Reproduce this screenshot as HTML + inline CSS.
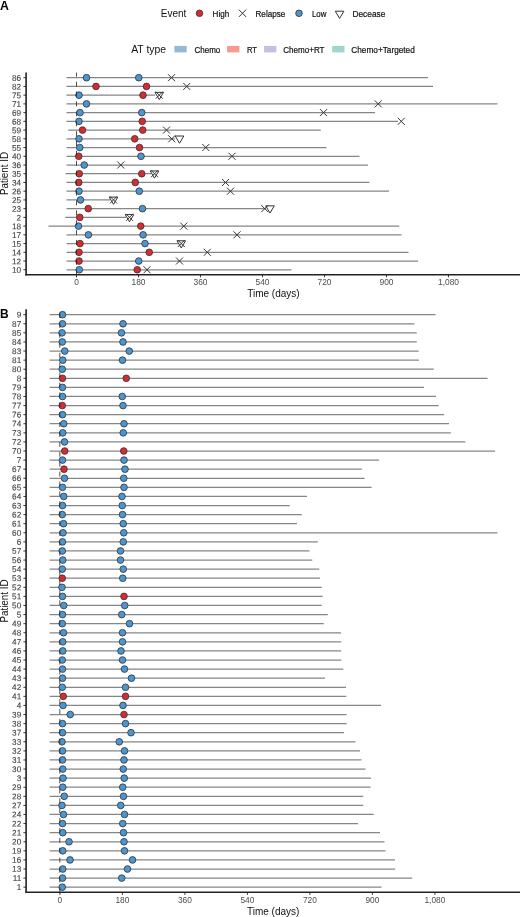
<!DOCTYPE html>
<html lang="en"><head><meta charset="utf-8"><title>Figure</title>
<style>html,body{margin:0;padding:0;background:#fff}svg{display:block}text{font-family:'Liberation Sans', sans-serif}</style></head><body>
<svg width="520" height="917" viewBox="0 0 520 917">
<rect width="520" height="917" fill="#fff"/>
<text x="0" y="9.5" font-size="12.3" font-weight="bold" fill="#000">A</text>
<text x="0" y="318" font-size="12" font-weight="bold" fill="#000">B</text>
<text x="160.8" y="16.9" font-size="10" fill="#111">Event</text>
<circle cx="199.50" cy="13.30" r="3.3" fill="#D62B33" stroke="#333" stroke-width="0.8"/>
<text x="212.6" y="16.6" font-size="8.5" textLength="16.6" lengthAdjust="spacingAndGlyphs" fill="#111" stroke="#111" stroke-width="0.2">High</text>
<path d="M238.90 9.70L246.10 16.90M238.90 16.90L246.10 9.70" stroke="#333" stroke-width="1" fill="none"/>
<text x="255.5" y="16.6" font-size="8.5" textLength="29.8" lengthAdjust="spacingAndGlyphs" fill="#111" stroke="#111" stroke-width="0.2">Relapse</text>
<circle cx="299.00" cy="13.30" r="3.3" fill="#4B96D1" stroke="#333" stroke-width="0.8"/>
<text x="312" y="16.6" font-size="8.5" textLength="14.3" lengthAdjust="spacingAndGlyphs" fill="#111" stroke="#111" stroke-width="0.2">Low</text>
<path d="M335.30 11.20L343.90 11.20L339.60 18.40Z" stroke="#333" stroke-width="1" fill="none"/>
<text x="352.5" y="16.6" font-size="8.5" textLength="32.8" lengthAdjust="spacingAndGlyphs" fill="#111" stroke="#111" stroke-width="0.2">Decease</text>
<text x="131.2" y="52.8" font-size="10" textLength="35" lengthAdjust="spacingAndGlyphs" fill="#111">AT type</text>
<rect x="174.4" y="45.9" width="12.3" height="6.5" fill="#97B8D3"/>
<rect x="227.1" y="45.9" width="12.3" height="6.5" fill="#F59B91"/>
<rect x="264.1" y="45.9" width="12.3" height="6.5" fill="#C0C2DF"/>
<rect x="332.2" y="45.9" width="12.3" height="6.5" fill="#9DD6CC"/>
<text x="194.4" y="52.5" font-size="8.5" textLength="25.9" lengthAdjust="spacingAndGlyphs" fill="#111" stroke="#111" stroke-width="0.2">Chemo</text>
<text x="247" y="52.5" font-size="8.5" textLength="10" lengthAdjust="spacingAndGlyphs" fill="#111" stroke="#111" stroke-width="0.2">RT</text>
<text x="283.2" y="52.5" font-size="8.5" textLength="41.3" lengthAdjust="spacingAndGlyphs" fill="#111" stroke="#111" stroke-width="0.2">Chemo+RT</text>
<text x="351.3" y="52.5" font-size="8.5" textLength="63.5" lengthAdjust="spacingAndGlyphs" fill="#111" stroke="#111" stroke-width="0.2">Chemo+Targeted</text>
<g>
<line x1="66.5" y1="77.70" x2="428" y2="77.70" stroke="#868686" stroke-width="1.25"/>
<line x1="66.5" y1="86.43" x2="433" y2="86.43" stroke="#868686" stroke-width="1.25"/>
<line x1="66.5" y1="95.16" x2="155" y2="95.16" stroke="#868686" stroke-width="1.25"/>
<line x1="66.5" y1="103.89" x2="497.5" y2="103.89" stroke="#868686" stroke-width="1.25"/>
<line x1="66.5" y1="112.62" x2="375" y2="112.62" stroke="#868686" stroke-width="1.25"/>
<line x1="66.5" y1="121.35" x2="398" y2="121.35" stroke="#868686" stroke-width="1.25"/>
<line x1="68.25" y1="130.08" x2="320.75" y2="130.08" stroke="#868686" stroke-width="1.25"/>
<line x1="66.5" y1="138.81" x2="175" y2="138.81" stroke="#868686" stroke-width="1.25"/>
<line x1="66.5" y1="147.54" x2="326.5" y2="147.54" stroke="#868686" stroke-width="1.25"/>
<line x1="66.5" y1="156.27" x2="359.5" y2="156.27" stroke="#868686" stroke-width="1.25"/>
<line x1="66.5" y1="165.00" x2="368" y2="165.00" stroke="#868686" stroke-width="1.25"/>
<line x1="65.5" y1="173.73" x2="151" y2="173.73" stroke="#868686" stroke-width="1.25"/>
<line x1="66.5" y1="182.46" x2="369.5" y2="182.46" stroke="#868686" stroke-width="1.25"/>
<line x1="66.5" y1="191.19" x2="389" y2="191.19" stroke="#868686" stroke-width="1.25"/>
<line x1="66.5" y1="199.92" x2="110" y2="199.92" stroke="#868686" stroke-width="1.25"/>
<line x1="66.5" y1="208.65" x2="266" y2="208.65" stroke="#868686" stroke-width="1.25"/>
<line x1="65.25" y1="217.38" x2="126" y2="217.38" stroke="#868686" stroke-width="1.25"/>
<line x1="48.5" y1="226.11" x2="399.25" y2="226.11" stroke="#868686" stroke-width="1.25"/>
<line x1="66.5" y1="234.84" x2="401.5" y2="234.84" stroke="#868686" stroke-width="1.25"/>
<line x1="66.5" y1="243.57" x2="178" y2="243.57" stroke="#868686" stroke-width="1.25"/>
<line x1="66.5" y1="252.30" x2="408.5" y2="252.30" stroke="#868686" stroke-width="1.25"/>
<line x1="66.5" y1="261.03" x2="418" y2="261.03" stroke="#868686" stroke-width="1.25"/>
<line x1="66.5" y1="269.76" x2="291.5" y2="269.76" stroke="#868686" stroke-width="1.25"/>
<circle cx="86.50" cy="77.70" r="3.35" fill="#4B96D1" stroke="#333" stroke-width="0.8"/>
<circle cx="138.75" cy="77.70" r="3.35" fill="#4B96D1" stroke="#333" stroke-width="0.8"/>
<path d="M168.00 74.20L175.00 81.20M168.00 81.20L175.00 74.20" stroke="#333" stroke-width="1" fill="none"/>
<circle cx="96.00" cy="86.43" r="3.35" fill="#D62B33" stroke="#333" stroke-width="0.8"/>
<circle cx="146.50" cy="86.43" r="3.35" fill="#D62B33" stroke="#333" stroke-width="0.8"/>
<path d="M183.25 82.93L190.25 89.93M183.25 89.93L190.25 82.93" stroke="#333" stroke-width="1" fill="none"/>
<circle cx="79.00" cy="95.16" r="3.35" fill="#4B96D1" stroke="#333" stroke-width="0.8"/>
<circle cx="143.00" cy="95.16" r="3.35" fill="#D62B33" stroke="#333" stroke-width="0.8"/>
<path d="M154.95 92.36L163.55 92.36L159.25 99.56Z" stroke="#333" stroke-width="1" fill="none"/>
<path d="M155.75 91.66L162.75 98.66M155.75 98.66L162.75 91.66" stroke="#333" stroke-width="1" fill="none"/>
<circle cx="86.50" cy="103.89" r="3.35" fill="#4B96D1" stroke="#333" stroke-width="0.8"/>
<path d="M374.75 100.39L381.75 107.39M374.75 107.39L381.75 100.39" stroke="#333" stroke-width="1" fill="none"/>
<circle cx="80.00" cy="112.62" r="3.35" fill="#4B96D1" stroke="#333" stroke-width="0.8"/>
<circle cx="141.75" cy="112.62" r="3.35" fill="#4B96D1" stroke="#333" stroke-width="0.8"/>
<path d="M320.00 109.12L327.00 116.12M320.00 116.12L327.00 109.12" stroke="#333" stroke-width="1" fill="none"/>
<circle cx="79.00" cy="121.35" r="3.35" fill="#4B96D1" stroke="#333" stroke-width="0.8"/>
<circle cx="142.25" cy="121.35" r="3.35" fill="#D62B33" stroke="#333" stroke-width="0.8"/>
<path d="M397.75 117.85L404.75 124.85M397.75 124.85L404.75 117.85" stroke="#333" stroke-width="1" fill="none"/>
<circle cx="82.50" cy="130.08" r="3.35" fill="#D62B33" stroke="#333" stroke-width="0.8"/>
<circle cx="142.75" cy="130.08" r="3.35" fill="#D62B33" stroke="#333" stroke-width="0.8"/>
<path d="M163.00 126.58L170.00 133.58M163.00 133.58L170.00 126.58" stroke="#333" stroke-width="1" fill="none"/>
<circle cx="79.00" cy="138.81" r="3.35" fill="#4B96D1" stroke="#333" stroke-width="0.8"/>
<circle cx="134.75" cy="138.81" r="3.35" fill="#D62B33" stroke="#333" stroke-width="0.8"/>
<path d="M168.25 135.31L175.25 142.31M168.25 142.31L175.25 135.31" stroke="#333" stroke-width="1" fill="none"/>
<path d="M175.20 136.01L183.80 136.01L179.50 143.21Z" stroke="#333" stroke-width="1" fill="none"/>
<circle cx="79.75" cy="147.54" r="3.35" fill="#4B96D1" stroke="#333" stroke-width="0.8"/>
<circle cx="139.50" cy="147.54" r="3.35" fill="#D62B33" stroke="#333" stroke-width="0.8"/>
<path d="M202.25 144.04L209.25 151.04M202.25 151.04L209.25 144.04" stroke="#333" stroke-width="1" fill="none"/>
<circle cx="78.75" cy="156.27" r="3.35" fill="#D62B33" stroke="#333" stroke-width="0.8"/>
<circle cx="141.00" cy="156.27" r="3.35" fill="#4B96D1" stroke="#333" stroke-width="0.8"/>
<path d="M228.50 152.77L235.50 159.77M228.50 159.77L235.50 152.77" stroke="#333" stroke-width="1" fill="none"/>
<circle cx="84.25" cy="165.00" r="3.35" fill="#4B96D1" stroke="#333" stroke-width="0.8"/>
<path d="M117.25 161.50L124.25 168.50M117.25 168.50L124.25 161.50" stroke="#333" stroke-width="1" fill="none"/>
<circle cx="79.25" cy="173.73" r="3.35" fill="#D62B33" stroke="#333" stroke-width="0.8"/>
<circle cx="141.75" cy="173.73" r="3.35" fill="#D62B33" stroke="#333" stroke-width="0.8"/>
<path d="M150.20 170.93L158.80 170.93L154.50 178.13Z" stroke="#333" stroke-width="1" fill="none"/>
<path d="M151.00 170.23L158.00 177.23M151.00 177.23L158.00 170.23" stroke="#333" stroke-width="1" fill="none"/>
<circle cx="78.75" cy="182.46" r="3.35" fill="#D62B33" stroke="#333" stroke-width="0.8"/>
<circle cx="135.25" cy="182.46" r="3.35" fill="#D62B33" stroke="#333" stroke-width="0.8"/>
<path d="M222.00 178.96L229.00 185.96M222.00 185.96L229.00 178.96" stroke="#333" stroke-width="1" fill="none"/>
<circle cx="79.00" cy="191.19" r="3.35" fill="#4B96D1" stroke="#333" stroke-width="0.8"/>
<circle cx="139.25" cy="191.19" r="3.35" fill="#4B96D1" stroke="#333" stroke-width="0.8"/>
<path d="M227.00 187.69L234.00 194.69M227.00 194.69L234.00 187.69" stroke="#333" stroke-width="1" fill="none"/>
<circle cx="80.50" cy="199.92" r="3.35" fill="#4B96D1" stroke="#333" stroke-width="0.8"/>
<path d="M109.20 197.12L117.80 197.12L113.50 204.32Z" stroke="#333" stroke-width="1" fill="none"/>
<path d="M110.00 196.42L117.00 203.42M110.00 203.42L117.00 196.42" stroke="#333" stroke-width="1" fill="none"/>
<circle cx="88.25" cy="208.65" r="3.35" fill="#D62B33" stroke="#333" stroke-width="0.8"/>
<circle cx="142.50" cy="208.65" r="3.35" fill="#4B96D1" stroke="#333" stroke-width="0.8"/>
<path d="M261.25 205.15L268.25 212.15M261.25 212.15L268.25 205.15" stroke="#333" stroke-width="1" fill="none"/>
<path d="M265.70 205.85L274.30 205.85L270.00 213.05Z" stroke="#333" stroke-width="1" fill="none"/>
<circle cx="79.75" cy="217.38" r="3.35" fill="#D62B33" stroke="#333" stroke-width="0.8"/>
<path d="M125.20 214.58L133.80 214.58L129.50 221.78Z" stroke="#333" stroke-width="1" fill="none"/>
<path d="M126.00 213.88L133.00 220.88M126.00 220.88L133.00 213.88" stroke="#333" stroke-width="1" fill="none"/>
<circle cx="78.50" cy="226.11" r="3.35" fill="#4B96D1" stroke="#333" stroke-width="0.8"/>
<circle cx="140.75" cy="226.11" r="3.35" fill="#D62B33" stroke="#333" stroke-width="0.8"/>
<path d="M180.25 222.61L187.25 229.61M180.25 229.61L187.25 222.61" stroke="#333" stroke-width="1" fill="none"/>
<circle cx="88.40" cy="234.84" r="3.35" fill="#4B96D1" stroke="#333" stroke-width="0.8"/>
<circle cx="143.10" cy="234.84" r="3.35" fill="#4B96D1" stroke="#333" stroke-width="0.8"/>
<path d="M233.50 231.34L240.50 238.34M233.50 238.34L240.50 231.34" stroke="#333" stroke-width="1" fill="none"/>
<circle cx="80.00" cy="243.57" r="3.35" fill="#D62B33" stroke="#333" stroke-width="0.8"/>
<circle cx="145.00" cy="243.57" r="3.35" fill="#4B96D1" stroke="#333" stroke-width="0.8"/>
<path d="M176.95 240.77L185.55 240.77L181.25 247.97Z" stroke="#333" stroke-width="1" fill="none"/>
<path d="M177.75 240.07L184.75 247.07M177.75 247.07L184.75 240.07" stroke="#333" stroke-width="1" fill="none"/>
<circle cx="79.00" cy="252.30" r="3.35" fill="#D62B33" stroke="#333" stroke-width="0.8"/>
<circle cx="149.25" cy="252.30" r="3.35" fill="#D62B33" stroke="#333" stroke-width="0.8"/>
<path d="M203.75 248.80L210.75 255.80M203.75 255.80L210.75 248.80" stroke="#333" stroke-width="1" fill="none"/>
<circle cx="79.00" cy="261.03" r="3.35" fill="#D62B33" stroke="#333" stroke-width="0.8"/>
<circle cx="138.75" cy="261.03" r="3.35" fill="#4B96D1" stroke="#333" stroke-width="0.8"/>
<path d="M176.00 257.53L183.00 264.53M176.00 264.53L183.00 257.53" stroke="#333" stroke-width="1" fill="none"/>
<circle cx="79.25" cy="269.76" r="3.35" fill="#4B96D1" stroke="#333" stroke-width="0.8"/>
<circle cx="137.25" cy="269.76" r="3.35" fill="#D62B33" stroke="#333" stroke-width="0.8"/>
<path d="M143.50 266.26L150.50 273.26M143.50 273.26L150.50 266.26" stroke="#333" stroke-width="1" fill="none"/>
<line x1="76.5" y1="274.7" x2="76.5" y2="72.6" stroke="#222" stroke-width="1" stroke-opacity="0.8" stroke-dasharray="4.95 4.95"/>
<line x1="26.1" y1="72.6" x2="26.1" y2="275.5" stroke="#222" stroke-width="1.6"/>
<line x1="25.3" y1="274.7" x2="520" y2="274.7" stroke="#222" stroke-width="1.6"/>
<line x1="23.4" y1="77.70" x2="26.1" y2="77.70" stroke="#222" stroke-width="0.9"/>
<text transform="translate(21 80.80) rotate(0.03)" font-size="8.2" text-anchor="end" fill="#424242" stroke="#424242" stroke-width="0.12">86</text>
<line x1="23.4" y1="86.43" x2="26.1" y2="86.43" stroke="#222" stroke-width="0.9"/>
<text transform="translate(21 89.53) rotate(0.03)" font-size="8.2" text-anchor="end" fill="#424242" stroke="#424242" stroke-width="0.12">82</text>
<line x1="23.4" y1="95.16" x2="26.1" y2="95.16" stroke="#222" stroke-width="0.9"/>
<text transform="translate(21 98.26) rotate(0.03)" font-size="8.2" text-anchor="end" fill="#424242" stroke="#424242" stroke-width="0.12">75</text>
<line x1="23.4" y1="103.89" x2="26.1" y2="103.89" stroke="#222" stroke-width="0.9"/>
<text transform="translate(21 106.99) rotate(0.03)" font-size="8.2" text-anchor="end" fill="#424242" stroke="#424242" stroke-width="0.12">71</text>
<line x1="23.4" y1="112.62" x2="26.1" y2="112.62" stroke="#222" stroke-width="0.9"/>
<text transform="translate(21 115.72) rotate(0.03)" font-size="8.2" text-anchor="end" fill="#424242" stroke="#424242" stroke-width="0.12">69</text>
<line x1="23.4" y1="121.35" x2="26.1" y2="121.35" stroke="#222" stroke-width="0.9"/>
<text transform="translate(21 124.45) rotate(0.03)" font-size="8.2" text-anchor="end" fill="#424242" stroke="#424242" stroke-width="0.12">68</text>
<line x1="23.4" y1="130.08" x2="26.1" y2="130.08" stroke="#222" stroke-width="0.9"/>
<text transform="translate(21 133.18) rotate(0.03)" font-size="8.2" text-anchor="end" fill="#424242" stroke="#424242" stroke-width="0.12">59</text>
<line x1="23.4" y1="138.81" x2="26.1" y2="138.81" stroke="#222" stroke-width="0.9"/>
<text transform="translate(21 141.91) rotate(0.03)" font-size="8.2" text-anchor="end" fill="#424242" stroke="#424242" stroke-width="0.12">58</text>
<line x1="23.4" y1="147.54" x2="26.1" y2="147.54" stroke="#222" stroke-width="0.9"/>
<text transform="translate(21 150.64) rotate(0.03)" font-size="8.2" text-anchor="end" fill="#424242" stroke="#424242" stroke-width="0.12">55</text>
<line x1="23.4" y1="156.27" x2="26.1" y2="156.27" stroke="#222" stroke-width="0.9"/>
<text transform="translate(21 159.37) rotate(0.03)" font-size="8.2" text-anchor="end" fill="#424242" stroke="#424242" stroke-width="0.12">40</text>
<line x1="23.4" y1="165.00" x2="26.1" y2="165.00" stroke="#222" stroke-width="0.9"/>
<text transform="translate(21 168.10) rotate(0.03)" font-size="8.2" text-anchor="end" fill="#424242" stroke="#424242" stroke-width="0.12">36</text>
<line x1="23.4" y1="173.73" x2="26.1" y2="173.73" stroke="#222" stroke-width="0.9"/>
<text transform="translate(21 176.83) rotate(0.03)" font-size="8.2" text-anchor="end" fill="#424242" stroke="#424242" stroke-width="0.12">35</text>
<line x1="23.4" y1="182.46" x2="26.1" y2="182.46" stroke="#222" stroke-width="0.9"/>
<text transform="translate(21 185.56) rotate(0.03)" font-size="8.2" text-anchor="end" fill="#424242" stroke="#424242" stroke-width="0.12">34</text>
<line x1="23.4" y1="191.19" x2="26.1" y2="191.19" stroke="#222" stroke-width="0.9"/>
<text transform="translate(21 194.29) rotate(0.03)" font-size="8.2" text-anchor="end" fill="#424242" stroke="#424242" stroke-width="0.12">26</text>
<line x1="23.4" y1="199.92" x2="26.1" y2="199.92" stroke="#222" stroke-width="0.9"/>
<text transform="translate(21 203.02) rotate(0.03)" font-size="8.2" text-anchor="end" fill="#424242" stroke="#424242" stroke-width="0.12">25</text>
<line x1="23.4" y1="208.65" x2="26.1" y2="208.65" stroke="#222" stroke-width="0.9"/>
<text transform="translate(21 211.75) rotate(0.03)" font-size="8.2" text-anchor="end" fill="#424242" stroke="#424242" stroke-width="0.12">23</text>
<line x1="23.4" y1="217.38" x2="26.1" y2="217.38" stroke="#222" stroke-width="0.9"/>
<text transform="translate(21 220.48) rotate(0.03)" font-size="8.2" text-anchor="end" fill="#424242" stroke="#424242" stroke-width="0.12">2</text>
<line x1="23.4" y1="226.11" x2="26.1" y2="226.11" stroke="#222" stroke-width="0.9"/>
<text transform="translate(21 229.21) rotate(0.03)" font-size="8.2" text-anchor="end" fill="#424242" stroke="#424242" stroke-width="0.12">18</text>
<line x1="23.4" y1="234.84" x2="26.1" y2="234.84" stroke="#222" stroke-width="0.9"/>
<text transform="translate(21 237.94) rotate(0.03)" font-size="8.2" text-anchor="end" fill="#424242" stroke="#424242" stroke-width="0.12">17</text>
<line x1="23.4" y1="243.57" x2="26.1" y2="243.57" stroke="#222" stroke-width="0.9"/>
<text transform="translate(21 246.67) rotate(0.03)" font-size="8.2" text-anchor="end" fill="#424242" stroke="#424242" stroke-width="0.12">15</text>
<line x1="23.4" y1="252.30" x2="26.1" y2="252.30" stroke="#222" stroke-width="0.9"/>
<text transform="translate(21 255.40) rotate(0.03)" font-size="8.2" text-anchor="end" fill="#424242" stroke="#424242" stroke-width="0.12">14</text>
<line x1="23.4" y1="261.03" x2="26.1" y2="261.03" stroke="#222" stroke-width="0.9"/>
<text transform="translate(21 264.13) rotate(0.03)" font-size="8.2" text-anchor="end" fill="#424242" stroke="#424242" stroke-width="0.12">12</text>
<line x1="23.4" y1="269.76" x2="26.1" y2="269.76" stroke="#222" stroke-width="0.9"/>
<text transform="translate(21 272.86) rotate(0.03)" font-size="8.2" text-anchor="end" fill="#424242" stroke="#424242" stroke-width="0.12">10</text>
<line x1="76.5" y1="274.7" x2="76.5" y2="277.3" stroke="#222" stroke-width="0.9"/>
<text x="76.5" y="285.2" font-size="8.4" text-anchor="middle" fill="#4d4d4d">0</text>
<line x1="138.5" y1="274.7" x2="138.5" y2="277.3" stroke="#222" stroke-width="0.9"/>
<text x="138.5" y="285.2" font-size="8.4" text-anchor="middle" fill="#4d4d4d">180</text>
<line x1="200.5" y1="274.7" x2="200.5" y2="277.3" stroke="#222" stroke-width="0.9"/>
<text x="200.5" y="285.2" font-size="8.4" text-anchor="middle" fill="#4d4d4d">360</text>
<line x1="262.5" y1="274.7" x2="262.5" y2="277.3" stroke="#222" stroke-width="0.9"/>
<text x="262.5" y="285.2" font-size="8.4" text-anchor="middle" fill="#4d4d4d">540</text>
<line x1="324.5" y1="274.7" x2="324.5" y2="277.3" stroke="#222" stroke-width="0.9"/>
<text x="324.5" y="285.2" font-size="8.4" text-anchor="middle" fill="#4d4d4d">720</text>
<line x1="386.5" y1="274.7" x2="386.5" y2="277.3" stroke="#222" stroke-width="0.9"/>
<text x="386.5" y="285.2" font-size="8.4" text-anchor="middle" fill="#4d4d4d">900</text>
<line x1="448.5" y1="274.7" x2="448.5" y2="277.3" stroke="#222" stroke-width="0.9"/>
<text x="448.5" y="285.2" font-size="8.4" text-anchor="middle" fill="#4d4d4d">1,080</text>
<text x="273.4" y="297.3" font-size="10" text-anchor="middle" fill="#111">Time (days)</text>
<text transform="translate(8.1 173.5) rotate(-90)" font-size="10" textLength="43.2" lengthAdjust="spacingAndGlyphs" text-anchor="middle" fill="#111">Patient ID</text>
</g>
<g>
<line x1="49.6" y1="314.70" x2="435.5" y2="314.70" stroke="#868686" stroke-width="1.25"/>
<line x1="49.6" y1="323.79" x2="414.4" y2="323.79" stroke="#868686" stroke-width="1.25"/>
<line x1="49.6" y1="332.87" x2="416.8" y2="332.87" stroke="#868686" stroke-width="1.25"/>
<line x1="49.6" y1="341.96" x2="416.8" y2="341.96" stroke="#868686" stroke-width="1.25"/>
<line x1="49.6" y1="351.05" x2="418.6" y2="351.05" stroke="#868686" stroke-width="1.25"/>
<line x1="49.6" y1="360.13" x2="418.9" y2="360.13" stroke="#868686" stroke-width="1.25"/>
<line x1="49.6" y1="369.22" x2="433.8" y2="369.22" stroke="#868686" stroke-width="1.25"/>
<line x1="49.6" y1="378.31" x2="487.5" y2="378.31" stroke="#868686" stroke-width="1.25"/>
<line x1="49.6" y1="387.40" x2="424.1" y2="387.40" stroke="#868686" stroke-width="1.25"/>
<line x1="49.6" y1="396.48" x2="435.9" y2="396.48" stroke="#868686" stroke-width="1.25"/>
<line x1="49.6" y1="405.57" x2="438.6" y2="405.57" stroke="#868686" stroke-width="1.25"/>
<line x1="49.6" y1="414.66" x2="444.2" y2="414.66" stroke="#868686" stroke-width="1.25"/>
<line x1="49.6" y1="423.74" x2="449" y2="423.74" stroke="#868686" stroke-width="1.25"/>
<line x1="49.6" y1="432.83" x2="450.8" y2="432.83" stroke="#868686" stroke-width="1.25"/>
<line x1="49.6" y1="441.92" x2="465.3" y2="441.92" stroke="#868686" stroke-width="1.25"/>
<line x1="49.6" y1="451.00" x2="495.1" y2="451.00" stroke="#868686" stroke-width="1.25"/>
<line x1="49.6" y1="460.09" x2="379.1" y2="460.09" stroke="#868686" stroke-width="1.25"/>
<line x1="49.6" y1="469.18" x2="361.8" y2="469.18" stroke="#868686" stroke-width="1.25"/>
<line x1="49.6" y1="478.27" x2="364.6" y2="478.27" stroke="#868686" stroke-width="1.25"/>
<line x1="49.6" y1="487.35" x2="371.6" y2="487.35" stroke="#868686" stroke-width="1.25"/>
<line x1="49.6" y1="496.44" x2="307" y2="496.44" stroke="#868686" stroke-width="1.25"/>
<line x1="49.6" y1="505.53" x2="289.75" y2="505.53" stroke="#868686" stroke-width="1.25"/>
<line x1="49.6" y1="514.61" x2="301.75" y2="514.61" stroke="#868686" stroke-width="1.25"/>
<line x1="49.6" y1="523.70" x2="297" y2="523.70" stroke="#868686" stroke-width="1.25"/>
<line x1="49.6" y1="532.79" x2="497.4" y2="532.79" stroke="#868686" stroke-width="1.25"/>
<line x1="49.6" y1="541.88" x2="317.75" y2="541.88" stroke="#868686" stroke-width="1.25"/>
<line x1="49.6" y1="550.96" x2="309.5" y2="550.96" stroke="#868686" stroke-width="1.25"/>
<line x1="49.6" y1="560.05" x2="312.25" y2="560.05" stroke="#868686" stroke-width="1.25"/>
<line x1="49.6" y1="569.14" x2="319.25" y2="569.14" stroke="#868686" stroke-width="1.25"/>
<line x1="49.6" y1="578.22" x2="320" y2="578.22" stroke="#868686" stroke-width="1.25"/>
<line x1="49.6" y1="587.31" x2="321.75" y2="587.31" stroke="#868686" stroke-width="1.25"/>
<line x1="49.6" y1="596.40" x2="322.75" y2="596.40" stroke="#868686" stroke-width="1.25"/>
<line x1="49.6" y1="605.48" x2="321.75" y2="605.48" stroke="#868686" stroke-width="1.25"/>
<line x1="49.6" y1="614.57" x2="327.75" y2="614.57" stroke="#868686" stroke-width="1.25"/>
<line x1="49.6" y1="623.66" x2="323.75" y2="623.66" stroke="#868686" stroke-width="1.25"/>
<line x1="49.6" y1="632.75" x2="341" y2="632.75" stroke="#868686" stroke-width="1.25"/>
<line x1="49.6" y1="641.83" x2="341.25" y2="641.83" stroke="#868686" stroke-width="1.25"/>
<line x1="49.6" y1="650.92" x2="341.25" y2="650.92" stroke="#868686" stroke-width="1.25"/>
<line x1="49.6" y1="660.01" x2="341.25" y2="660.01" stroke="#868686" stroke-width="1.25"/>
<line x1="49.6" y1="669.09" x2="343.25" y2="669.09" stroke="#868686" stroke-width="1.25"/>
<line x1="49.6" y1="678.18" x2="325" y2="678.18" stroke="#868686" stroke-width="1.25"/>
<line x1="49.6" y1="687.27" x2="346" y2="687.27" stroke="#868686" stroke-width="1.25"/>
<line x1="49.6" y1="696.35" x2="346.25" y2="696.35" stroke="#868686" stroke-width="1.25"/>
<line x1="49.6" y1="705.44" x2="381" y2="705.44" stroke="#868686" stroke-width="1.25"/>
<line x1="49.6" y1="714.53" x2="346.5" y2="714.53" stroke="#868686" stroke-width="1.25"/>
<line x1="49.6" y1="723.62" x2="346.75" y2="723.62" stroke="#868686" stroke-width="1.25"/>
<line x1="49.6" y1="732.70" x2="344" y2="732.70" stroke="#868686" stroke-width="1.25"/>
<line x1="49.6" y1="741.79" x2="355.5" y2="741.79" stroke="#868686" stroke-width="1.25"/>
<line x1="49.6" y1="750.88" x2="360" y2="750.88" stroke="#868686" stroke-width="1.25"/>
<line x1="49.6" y1="759.96" x2="361.5" y2="759.96" stroke="#868686" stroke-width="1.25"/>
<line x1="49.6" y1="769.05" x2="365.5" y2="769.05" stroke="#868686" stroke-width="1.25"/>
<line x1="49.6" y1="778.14" x2="371" y2="778.14" stroke="#868686" stroke-width="1.25"/>
<line x1="49.6" y1="787.22" x2="370.5" y2="787.22" stroke="#868686" stroke-width="1.25"/>
<line x1="49.6" y1="796.31" x2="363.25" y2="796.31" stroke="#868686" stroke-width="1.25"/>
<line x1="49.6" y1="805.40" x2="363.25" y2="805.40" stroke="#868686" stroke-width="1.25"/>
<line x1="49.6" y1="814.48" x2="373.75" y2="814.48" stroke="#868686" stroke-width="1.25"/>
<line x1="49.6" y1="823.57" x2="358" y2="823.57" stroke="#868686" stroke-width="1.25"/>
<line x1="49.6" y1="832.66" x2="380" y2="832.66" stroke="#868686" stroke-width="1.25"/>
<line x1="49.6" y1="841.75" x2="384.5" y2="841.75" stroke="#868686" stroke-width="1.25"/>
<line x1="49.6" y1="850.83" x2="385.5" y2="850.83" stroke="#868686" stroke-width="1.25"/>
<line x1="49.6" y1="859.92" x2="395" y2="859.92" stroke="#868686" stroke-width="1.25"/>
<line x1="49.6" y1="869.01" x2="395.25" y2="869.01" stroke="#868686" stroke-width="1.25"/>
<line x1="49.6" y1="878.09" x2="412.25" y2="878.09" stroke="#868686" stroke-width="1.25"/>
<line x1="49.6" y1="887.18" x2="381.5" y2="887.18" stroke="#868686" stroke-width="1.25"/>
<circle cx="62.50" cy="314.70" r="3.35" fill="#4B96D1" stroke="#333" stroke-width="0.8"/>
<circle cx="62.50" cy="323.79" r="3.35" fill="#4B96D1" stroke="#333" stroke-width="0.8"/>
<circle cx="123.00" cy="323.79" r="3.35" fill="#4B96D1" stroke="#333" stroke-width="0.8"/>
<circle cx="62.00" cy="332.87" r="3.35" fill="#4B96D1" stroke="#333" stroke-width="0.8"/>
<circle cx="121.50" cy="332.87" r="3.35" fill="#4B96D1" stroke="#333" stroke-width="0.8"/>
<circle cx="62.25" cy="341.96" r="3.35" fill="#4B96D1" stroke="#333" stroke-width="0.8"/>
<circle cx="123.00" cy="341.96" r="3.35" fill="#4B96D1" stroke="#333" stroke-width="0.8"/>
<circle cx="64.75" cy="351.05" r="3.35" fill="#4B96D1" stroke="#333" stroke-width="0.8"/>
<circle cx="129.25" cy="351.05" r="3.35" fill="#4B96D1" stroke="#333" stroke-width="0.8"/>
<circle cx="62.75" cy="360.13" r="3.35" fill="#4B96D1" stroke="#333" stroke-width="0.8"/>
<circle cx="122.50" cy="360.13" r="3.35" fill="#4B96D1" stroke="#333" stroke-width="0.8"/>
<circle cx="62.25" cy="369.22" r="3.35" fill="#4B96D1" stroke="#333" stroke-width="0.8"/>
<circle cx="62.50" cy="378.31" r="3.35" fill="#D62B33" stroke="#333" stroke-width="0.8"/>
<circle cx="126.25" cy="378.31" r="3.35" fill="#D62B33" stroke="#333" stroke-width="0.8"/>
<circle cx="62.50" cy="387.40" r="3.35" fill="#4B96D1" stroke="#333" stroke-width="0.8"/>
<circle cx="62.50" cy="396.48" r="3.35" fill="#4B96D1" stroke="#333" stroke-width="0.8"/>
<circle cx="122.25" cy="396.48" r="3.35" fill="#4B96D1" stroke="#333" stroke-width="0.8"/>
<circle cx="62.25" cy="405.57" r="3.35" fill="#D62B33" stroke="#333" stroke-width="0.8"/>
<circle cx="123.00" cy="405.57" r="3.35" fill="#4B96D1" stroke="#333" stroke-width="0.8"/>
<circle cx="62.50" cy="414.66" r="3.35" fill="#4B96D1" stroke="#333" stroke-width="0.8"/>
<circle cx="63.75" cy="423.74" r="3.35" fill="#4B96D1" stroke="#333" stroke-width="0.8"/>
<circle cx="124.00" cy="423.74" r="3.35" fill="#4B96D1" stroke="#333" stroke-width="0.8"/>
<circle cx="62.75" cy="432.83" r="3.35" fill="#4B96D1" stroke="#333" stroke-width="0.8"/>
<circle cx="123.25" cy="432.83" r="3.35" fill="#4B96D1" stroke="#333" stroke-width="0.8"/>
<circle cx="64.50" cy="441.92" r="3.35" fill="#4B96D1" stroke="#333" stroke-width="0.8"/>
<circle cx="64.75" cy="451.00" r="3.35" fill="#D62B33" stroke="#333" stroke-width="0.8"/>
<circle cx="123.75" cy="451.00" r="3.35" fill="#D62B33" stroke="#333" stroke-width="0.8"/>
<circle cx="62.50" cy="460.09" r="3.35" fill="#4B96D1" stroke="#333" stroke-width="0.8"/>
<circle cx="124.00" cy="460.09" r="3.35" fill="#4B96D1" stroke="#333" stroke-width="0.8"/>
<circle cx="64.00" cy="469.18" r="3.35" fill="#D62B33" stroke="#333" stroke-width="0.8"/>
<circle cx="125.00" cy="469.18" r="3.35" fill="#4B96D1" stroke="#333" stroke-width="0.8"/>
<circle cx="64.50" cy="478.27" r="3.35" fill="#4B96D1" stroke="#333" stroke-width="0.8"/>
<circle cx="123.75" cy="478.27" r="3.35" fill="#4B96D1" stroke="#333" stroke-width="0.8"/>
<circle cx="62.50" cy="487.35" r="3.35" fill="#4B96D1" stroke="#333" stroke-width="0.8"/>
<circle cx="124.00" cy="487.35" r="3.35" fill="#4B96D1" stroke="#333" stroke-width="0.8"/>
<circle cx="63.75" cy="496.44" r="3.35" fill="#4B96D1" stroke="#333" stroke-width="0.8"/>
<circle cx="122.00" cy="496.44" r="3.35" fill="#4B96D1" stroke="#333" stroke-width="0.8"/>
<circle cx="62.50" cy="505.53" r="3.35" fill="#4B96D1" stroke="#333" stroke-width="0.8"/>
<circle cx="122.25" cy="505.53" r="3.35" fill="#4B96D1" stroke="#333" stroke-width="0.8"/>
<circle cx="62.25" cy="514.61" r="3.35" fill="#4B96D1" stroke="#333" stroke-width="0.8"/>
<circle cx="122.50" cy="514.61" r="3.35" fill="#4B96D1" stroke="#333" stroke-width="0.8"/>
<circle cx="63.50" cy="523.70" r="3.35" fill="#4B96D1" stroke="#333" stroke-width="0.8"/>
<circle cx="123.25" cy="523.70" r="3.35" fill="#4B96D1" stroke="#333" stroke-width="0.8"/>
<circle cx="63.00" cy="532.79" r="3.35" fill="#4B96D1" stroke="#333" stroke-width="0.8"/>
<circle cx="123.75" cy="532.79" r="3.35" fill="#4B96D1" stroke="#333" stroke-width="0.8"/>
<circle cx="62.50" cy="541.88" r="3.35" fill="#4B96D1" stroke="#333" stroke-width="0.8"/>
<circle cx="123.25" cy="541.88" r="3.35" fill="#4B96D1" stroke="#333" stroke-width="0.8"/>
<circle cx="62.25" cy="550.96" r="3.35" fill="#4B96D1" stroke="#333" stroke-width="0.8"/>
<circle cx="120.50" cy="550.96" r="3.35" fill="#4B96D1" stroke="#333" stroke-width="0.8"/>
<circle cx="62.75" cy="560.05" r="3.35" fill="#4B96D1" stroke="#333" stroke-width="0.8"/>
<circle cx="120.50" cy="560.05" r="3.35" fill="#4B96D1" stroke="#333" stroke-width="0.8"/>
<circle cx="62.25" cy="569.14" r="3.35" fill="#4B96D1" stroke="#333" stroke-width="0.8"/>
<circle cx="123.25" cy="569.14" r="3.35" fill="#4B96D1" stroke="#333" stroke-width="0.8"/>
<circle cx="62.25" cy="578.22" r="3.35" fill="#D62B33" stroke="#333" stroke-width="0.8"/>
<circle cx="122.75" cy="578.22" r="3.35" fill="#4B96D1" stroke="#333" stroke-width="0.8"/>
<circle cx="62.00" cy="587.31" r="3.35" fill="#4B96D1" stroke="#333" stroke-width="0.8"/>
<circle cx="62.50" cy="596.40" r="3.35" fill="#4B96D1" stroke="#333" stroke-width="0.8"/>
<circle cx="124.00" cy="596.40" r="3.35" fill="#D62B33" stroke="#333" stroke-width="0.8"/>
<circle cx="63.75" cy="605.48" r="3.35" fill="#4B96D1" stroke="#333" stroke-width="0.8"/>
<circle cx="124.75" cy="605.48" r="3.35" fill="#4B96D1" stroke="#333" stroke-width="0.8"/>
<circle cx="62.50" cy="614.57" r="3.35" fill="#4B96D1" stroke="#333" stroke-width="0.8"/>
<circle cx="121.75" cy="614.57" r="3.35" fill="#4B96D1" stroke="#333" stroke-width="0.8"/>
<circle cx="62.25" cy="623.66" r="3.35" fill="#4B96D1" stroke="#333" stroke-width="0.8"/>
<circle cx="129.50" cy="623.66" r="3.35" fill="#4B96D1" stroke="#333" stroke-width="0.8"/>
<circle cx="63.50" cy="632.75" r="3.35" fill="#4B96D1" stroke="#333" stroke-width="0.8"/>
<circle cx="122.50" cy="632.75" r="3.35" fill="#4B96D1" stroke="#333" stroke-width="0.8"/>
<circle cx="62.75" cy="641.83" r="3.35" fill="#4B96D1" stroke="#333" stroke-width="0.8"/>
<circle cx="122.50" cy="641.83" r="3.35" fill="#4B96D1" stroke="#333" stroke-width="0.8"/>
<circle cx="62.75" cy="650.92" r="3.35" fill="#4B96D1" stroke="#333" stroke-width="0.8"/>
<circle cx="121.00" cy="650.92" r="3.35" fill="#4B96D1" stroke="#333" stroke-width="0.8"/>
<circle cx="62.25" cy="660.01" r="3.35" fill="#4B96D1" stroke="#333" stroke-width="0.8"/>
<circle cx="122.50" cy="660.01" r="3.35" fill="#4B96D1" stroke="#333" stroke-width="0.8"/>
<circle cx="62.50" cy="669.09" r="3.35" fill="#4B96D1" stroke="#333" stroke-width="0.8"/>
<circle cx="124.50" cy="669.09" r="3.35" fill="#4B96D1" stroke="#333" stroke-width="0.8"/>
<circle cx="62.50" cy="678.18" r="3.35" fill="#4B96D1" stroke="#333" stroke-width="0.8"/>
<circle cx="131.50" cy="678.18" r="3.35" fill="#4B96D1" stroke="#333" stroke-width="0.8"/>
<circle cx="62.25" cy="687.27" r="3.35" fill="#4B96D1" stroke="#333" stroke-width="0.8"/>
<circle cx="125.50" cy="687.27" r="3.35" fill="#4B96D1" stroke="#333" stroke-width="0.8"/>
<circle cx="63.25" cy="696.35" r="3.35" fill="#D62B33" stroke="#333" stroke-width="0.8"/>
<circle cx="125.50" cy="696.35" r="3.35" fill="#D62B33" stroke="#333" stroke-width="0.8"/>
<circle cx="63.00" cy="705.44" r="3.35" fill="#4B96D1" stroke="#333" stroke-width="0.8"/>
<circle cx="123.00" cy="705.44" r="3.35" fill="#4B96D1" stroke="#333" stroke-width="0.8"/>
<circle cx="70.25" cy="714.53" r="3.35" fill="#4B96D1" stroke="#333" stroke-width="0.8"/>
<circle cx="124.00" cy="714.53" r="3.35" fill="#D62B33" stroke="#333" stroke-width="0.8"/>
<circle cx="62.50" cy="723.62" r="3.35" fill="#4B96D1" stroke="#333" stroke-width="0.8"/>
<circle cx="125.50" cy="723.62" r="3.35" fill="#4B96D1" stroke="#333" stroke-width="0.8"/>
<circle cx="62.50" cy="732.70" r="3.35" fill="#4B96D1" stroke="#333" stroke-width="0.8"/>
<circle cx="131.00" cy="732.70" r="3.35" fill="#4B96D1" stroke="#333" stroke-width="0.8"/>
<circle cx="62.00" cy="741.79" r="3.35" fill="#4B96D1" stroke="#333" stroke-width="0.8"/>
<circle cx="119.25" cy="741.79" r="3.35" fill="#4B96D1" stroke="#333" stroke-width="0.8"/>
<circle cx="62.50" cy="750.88" r="3.35" fill="#4B96D1" stroke="#333" stroke-width="0.8"/>
<circle cx="124.50" cy="750.88" r="3.35" fill="#4B96D1" stroke="#333" stroke-width="0.8"/>
<circle cx="62.50" cy="759.96" r="3.35" fill="#4B96D1" stroke="#333" stroke-width="0.8"/>
<circle cx="124.00" cy="759.96" r="3.35" fill="#4B96D1" stroke="#333" stroke-width="0.8"/>
<circle cx="62.75" cy="769.05" r="3.35" fill="#4B96D1" stroke="#333" stroke-width="0.8"/>
<circle cx="123.25" cy="769.05" r="3.35" fill="#4B96D1" stroke="#333" stroke-width="0.8"/>
<circle cx="63.00" cy="778.14" r="3.35" fill="#4B96D1" stroke="#333" stroke-width="0.8"/>
<circle cx="124.25" cy="778.14" r="3.35" fill="#4B96D1" stroke="#333" stroke-width="0.8"/>
<circle cx="62.75" cy="787.22" r="3.35" fill="#4B96D1" stroke="#333" stroke-width="0.8"/>
<circle cx="122.75" cy="787.22" r="3.35" fill="#4B96D1" stroke="#333" stroke-width="0.8"/>
<circle cx="64.25" cy="796.31" r="3.35" fill="#4B96D1" stroke="#333" stroke-width="0.8"/>
<circle cx="123.50" cy="796.31" r="3.35" fill="#4B96D1" stroke="#333" stroke-width="0.8"/>
<circle cx="62.00" cy="805.40" r="3.35" fill="#4B96D1" stroke="#333" stroke-width="0.8"/>
<circle cx="120.75" cy="805.40" r="3.35" fill="#4B96D1" stroke="#333" stroke-width="0.8"/>
<circle cx="63.50" cy="814.48" r="3.35" fill="#4B96D1" stroke="#333" stroke-width="0.8"/>
<circle cx="124.50" cy="814.48" r="3.35" fill="#4B96D1" stroke="#333" stroke-width="0.8"/>
<circle cx="62.50" cy="823.57" r="3.35" fill="#4B96D1" stroke="#333" stroke-width="0.8"/>
<circle cx="122.75" cy="823.57" r="3.35" fill="#4B96D1" stroke="#333" stroke-width="0.8"/>
<circle cx="62.75" cy="832.66" r="3.35" fill="#4B96D1" stroke="#333" stroke-width="0.8"/>
<circle cx="123.50" cy="832.66" r="3.35" fill="#4B96D1" stroke="#333" stroke-width="0.8"/>
<circle cx="69.00" cy="841.75" r="3.35" fill="#4B96D1" stroke="#333" stroke-width="0.8"/>
<circle cx="124.00" cy="841.75" r="3.35" fill="#4B96D1" stroke="#333" stroke-width="0.8"/>
<circle cx="62.75" cy="850.83" r="3.35" fill="#4B96D1" stroke="#333" stroke-width="0.8"/>
<circle cx="124.50" cy="850.83" r="3.35" fill="#4B96D1" stroke="#333" stroke-width="0.8"/>
<circle cx="70.00" cy="859.92" r="3.35" fill="#4B96D1" stroke="#333" stroke-width="0.8"/>
<circle cx="132.50" cy="859.92" r="3.35" fill="#4B96D1" stroke="#333" stroke-width="0.8"/>
<circle cx="62.75" cy="869.01" r="3.35" fill="#4B96D1" stroke="#333" stroke-width="0.8"/>
<circle cx="127.50" cy="869.01" r="3.35" fill="#4B96D1" stroke="#333" stroke-width="0.8"/>
<circle cx="62.50" cy="878.09" r="3.35" fill="#4B96D1" stroke="#333" stroke-width="0.8"/>
<circle cx="121.75" cy="878.09" r="3.35" fill="#4B96D1" stroke="#333" stroke-width="0.8"/>
<circle cx="62.25" cy="887.18" r="3.35" fill="#4B96D1" stroke="#333" stroke-width="0.8"/>
<line x1="59.8" y1="892.3" x2="59.8" y2="309.2" stroke="#222" stroke-width="1" stroke-opacity="0.8" stroke-dasharray="4.95 4.95"/>
<line x1="26.1" y1="309.2" x2="26.1" y2="893.0999999999999" stroke="#222" stroke-width="1.6"/>
<line x1="25.3" y1="892.3" x2="520" y2="892.3" stroke="#222" stroke-width="1.6"/>
<line x1="23.4" y1="314.70" x2="26.1" y2="314.70" stroke="#222" stroke-width="0.9"/>
<text transform="translate(21.2 317.55) rotate(0.03)" font-size="8.2" text-anchor="end" fill="#424242" stroke="#424242" stroke-width="0.12">9</text>
<line x1="23.4" y1="323.79" x2="26.1" y2="323.79" stroke="#222" stroke-width="0.9"/>
<text transform="translate(21.2 326.64) rotate(0.03)" font-size="8.2" text-anchor="end" fill="#424242" stroke="#424242" stroke-width="0.12">87</text>
<line x1="23.4" y1="332.87" x2="26.1" y2="332.87" stroke="#222" stroke-width="0.9"/>
<text transform="translate(21.2 335.72) rotate(0.03)" font-size="8.2" text-anchor="end" fill="#424242" stroke="#424242" stroke-width="0.12">85</text>
<line x1="23.4" y1="341.96" x2="26.1" y2="341.96" stroke="#222" stroke-width="0.9"/>
<text transform="translate(21.2 344.81) rotate(0.03)" font-size="8.2" text-anchor="end" fill="#424242" stroke="#424242" stroke-width="0.12">84</text>
<line x1="23.4" y1="351.05" x2="26.1" y2="351.05" stroke="#222" stroke-width="0.9"/>
<text transform="translate(21.2 353.90) rotate(0.03)" font-size="8.2" text-anchor="end" fill="#424242" stroke="#424242" stroke-width="0.12">83</text>
<line x1="23.4" y1="360.13" x2="26.1" y2="360.13" stroke="#222" stroke-width="0.9"/>
<text transform="translate(21.2 362.99) rotate(0.03)" font-size="8.2" text-anchor="end" fill="#424242" stroke="#424242" stroke-width="0.12">81</text>
<line x1="23.4" y1="369.22" x2="26.1" y2="369.22" stroke="#222" stroke-width="0.9"/>
<text transform="translate(21.2 372.07) rotate(0.03)" font-size="8.2" text-anchor="end" fill="#424242" stroke="#424242" stroke-width="0.12">80</text>
<line x1="23.4" y1="378.31" x2="26.1" y2="378.31" stroke="#222" stroke-width="0.9"/>
<text transform="translate(21.2 381.16) rotate(0.03)" font-size="8.2" text-anchor="end" fill="#424242" stroke="#424242" stroke-width="0.12">8</text>
<line x1="23.4" y1="387.40" x2="26.1" y2="387.40" stroke="#222" stroke-width="0.9"/>
<text transform="translate(21.2 390.25) rotate(0.03)" font-size="8.2" text-anchor="end" fill="#424242" stroke="#424242" stroke-width="0.12">79</text>
<line x1="23.4" y1="396.48" x2="26.1" y2="396.48" stroke="#222" stroke-width="0.9"/>
<text transform="translate(21.2 399.33) rotate(0.03)" font-size="8.2" text-anchor="end" fill="#424242" stroke="#424242" stroke-width="0.12">78</text>
<line x1="23.4" y1="405.57" x2="26.1" y2="405.57" stroke="#222" stroke-width="0.9"/>
<text transform="translate(21.2 408.42) rotate(0.03)" font-size="8.2" text-anchor="end" fill="#424242" stroke="#424242" stroke-width="0.12">77</text>
<line x1="23.4" y1="414.66" x2="26.1" y2="414.66" stroke="#222" stroke-width="0.9"/>
<text transform="translate(21.2 417.51) rotate(0.03)" font-size="8.2" text-anchor="end" fill="#424242" stroke="#424242" stroke-width="0.12">76</text>
<line x1="23.4" y1="423.74" x2="26.1" y2="423.74" stroke="#222" stroke-width="0.9"/>
<text transform="translate(21.2 426.59) rotate(0.03)" font-size="8.2" text-anchor="end" fill="#424242" stroke="#424242" stroke-width="0.12">74</text>
<line x1="23.4" y1="432.83" x2="26.1" y2="432.83" stroke="#222" stroke-width="0.9"/>
<text transform="translate(21.2 435.68) rotate(0.03)" font-size="8.2" text-anchor="end" fill="#424242" stroke="#424242" stroke-width="0.12">73</text>
<line x1="23.4" y1="441.92" x2="26.1" y2="441.92" stroke="#222" stroke-width="0.9"/>
<text transform="translate(21.2 444.77) rotate(0.03)" font-size="8.2" text-anchor="end" fill="#424242" stroke="#424242" stroke-width="0.12">72</text>
<line x1="23.4" y1="451.00" x2="26.1" y2="451.00" stroke="#222" stroke-width="0.9"/>
<text transform="translate(21.2 453.86) rotate(0.03)" font-size="8.2" text-anchor="end" fill="#424242" stroke="#424242" stroke-width="0.12">70</text>
<line x1="23.4" y1="460.09" x2="26.1" y2="460.09" stroke="#222" stroke-width="0.9"/>
<text transform="translate(21.2 462.94) rotate(0.03)" font-size="8.2" text-anchor="end" fill="#424242" stroke="#424242" stroke-width="0.12">7</text>
<line x1="23.4" y1="469.18" x2="26.1" y2="469.18" stroke="#222" stroke-width="0.9"/>
<text transform="translate(21.2 472.03) rotate(0.03)" font-size="8.2" text-anchor="end" fill="#424242" stroke="#424242" stroke-width="0.12">67</text>
<line x1="23.4" y1="478.27" x2="26.1" y2="478.27" stroke="#222" stroke-width="0.9"/>
<text transform="translate(21.2 481.12) rotate(0.03)" font-size="8.2" text-anchor="end" fill="#424242" stroke="#424242" stroke-width="0.12">66</text>
<line x1="23.4" y1="487.35" x2="26.1" y2="487.35" stroke="#222" stroke-width="0.9"/>
<text transform="translate(21.2 490.20) rotate(0.03)" font-size="8.2" text-anchor="end" fill="#424242" stroke="#424242" stroke-width="0.12">65</text>
<line x1="23.4" y1="496.44" x2="26.1" y2="496.44" stroke="#222" stroke-width="0.9"/>
<text transform="translate(21.2 499.29) rotate(0.03)" font-size="8.2" text-anchor="end" fill="#424242" stroke="#424242" stroke-width="0.12">64</text>
<line x1="23.4" y1="505.53" x2="26.1" y2="505.53" stroke="#222" stroke-width="0.9"/>
<text transform="translate(21.2 508.38) rotate(0.03)" font-size="8.2" text-anchor="end" fill="#424242" stroke="#424242" stroke-width="0.12">63</text>
<line x1="23.4" y1="514.61" x2="26.1" y2="514.61" stroke="#222" stroke-width="0.9"/>
<text transform="translate(21.2 517.46) rotate(0.03)" font-size="8.2" text-anchor="end" fill="#424242" stroke="#424242" stroke-width="0.12">62</text>
<line x1="23.4" y1="523.70" x2="26.1" y2="523.70" stroke="#222" stroke-width="0.9"/>
<text transform="translate(21.2 526.55) rotate(0.03)" font-size="8.2" text-anchor="end" fill="#424242" stroke="#424242" stroke-width="0.12">61</text>
<line x1="23.4" y1="532.79" x2="26.1" y2="532.79" stroke="#222" stroke-width="0.9"/>
<text transform="translate(21.2 535.64) rotate(0.03)" font-size="8.2" text-anchor="end" fill="#424242" stroke="#424242" stroke-width="0.12">60</text>
<line x1="23.4" y1="541.88" x2="26.1" y2="541.88" stroke="#222" stroke-width="0.9"/>
<text transform="translate(21.2 544.73) rotate(0.03)" font-size="8.2" text-anchor="end" fill="#424242" stroke="#424242" stroke-width="0.12">6</text>
<line x1="23.4" y1="550.96" x2="26.1" y2="550.96" stroke="#222" stroke-width="0.9"/>
<text transform="translate(21.2 553.81) rotate(0.03)" font-size="8.2" text-anchor="end" fill="#424242" stroke="#424242" stroke-width="0.12">57</text>
<line x1="23.4" y1="560.05" x2="26.1" y2="560.05" stroke="#222" stroke-width="0.9"/>
<text transform="translate(21.2 562.90) rotate(0.03)" font-size="8.2" text-anchor="end" fill="#424242" stroke="#424242" stroke-width="0.12">56</text>
<line x1="23.4" y1="569.14" x2="26.1" y2="569.14" stroke="#222" stroke-width="0.9"/>
<text transform="translate(21.2 571.99) rotate(0.03)" font-size="8.2" text-anchor="end" fill="#424242" stroke="#424242" stroke-width="0.12">54</text>
<line x1="23.4" y1="578.22" x2="26.1" y2="578.22" stroke="#222" stroke-width="0.9"/>
<text transform="translate(21.2 581.07) rotate(0.03)" font-size="8.2" text-anchor="end" fill="#424242" stroke="#424242" stroke-width="0.12">53</text>
<line x1="23.4" y1="587.31" x2="26.1" y2="587.31" stroke="#222" stroke-width="0.9"/>
<text transform="translate(21.2 590.16) rotate(0.03)" font-size="8.2" text-anchor="end" fill="#424242" stroke="#424242" stroke-width="0.12">52</text>
<line x1="23.4" y1="596.40" x2="26.1" y2="596.40" stroke="#222" stroke-width="0.9"/>
<text transform="translate(21.2 599.25) rotate(0.03)" font-size="8.2" text-anchor="end" fill="#424242" stroke="#424242" stroke-width="0.12">51</text>
<line x1="23.4" y1="605.48" x2="26.1" y2="605.48" stroke="#222" stroke-width="0.9"/>
<text transform="translate(21.2 608.33) rotate(0.03)" font-size="8.2" text-anchor="end" fill="#424242" stroke="#424242" stroke-width="0.12">50</text>
<line x1="23.4" y1="614.57" x2="26.1" y2="614.57" stroke="#222" stroke-width="0.9"/>
<text transform="translate(21.2 617.42) rotate(0.03)" font-size="8.2" text-anchor="end" fill="#424242" stroke="#424242" stroke-width="0.12">5</text>
<line x1="23.4" y1="623.66" x2="26.1" y2="623.66" stroke="#222" stroke-width="0.9"/>
<text transform="translate(21.2 626.51) rotate(0.03)" font-size="8.2" text-anchor="end" fill="#424242" stroke="#424242" stroke-width="0.12">49</text>
<line x1="23.4" y1="632.75" x2="26.1" y2="632.75" stroke="#222" stroke-width="0.9"/>
<text transform="translate(21.2 635.60) rotate(0.03)" font-size="8.2" text-anchor="end" fill="#424242" stroke="#424242" stroke-width="0.12">48</text>
<line x1="23.4" y1="641.83" x2="26.1" y2="641.83" stroke="#222" stroke-width="0.9"/>
<text transform="translate(21.2 644.68) rotate(0.03)" font-size="8.2" text-anchor="end" fill="#424242" stroke="#424242" stroke-width="0.12">47</text>
<line x1="23.4" y1="650.92" x2="26.1" y2="650.92" stroke="#222" stroke-width="0.9"/>
<text transform="translate(21.2 653.77) rotate(0.03)" font-size="8.2" text-anchor="end" fill="#424242" stroke="#424242" stroke-width="0.12">46</text>
<line x1="23.4" y1="660.01" x2="26.1" y2="660.01" stroke="#222" stroke-width="0.9"/>
<text transform="translate(21.2 662.86) rotate(0.03)" font-size="8.2" text-anchor="end" fill="#424242" stroke="#424242" stroke-width="0.12">45</text>
<line x1="23.4" y1="669.09" x2="26.1" y2="669.09" stroke="#222" stroke-width="0.9"/>
<text transform="translate(21.2 671.94) rotate(0.03)" font-size="8.2" text-anchor="end" fill="#424242" stroke="#424242" stroke-width="0.12">44</text>
<line x1="23.4" y1="678.18" x2="26.1" y2="678.18" stroke="#222" stroke-width="0.9"/>
<text transform="translate(21.2 681.03) rotate(0.03)" font-size="8.2" text-anchor="end" fill="#424242" stroke="#424242" stroke-width="0.12">43</text>
<line x1="23.4" y1="687.27" x2="26.1" y2="687.27" stroke="#222" stroke-width="0.9"/>
<text transform="translate(21.2 690.12) rotate(0.03)" font-size="8.2" text-anchor="end" fill="#424242" stroke="#424242" stroke-width="0.12">42</text>
<line x1="23.4" y1="696.35" x2="26.1" y2="696.35" stroke="#222" stroke-width="0.9"/>
<text transform="translate(21.2 699.20) rotate(0.03)" font-size="8.2" text-anchor="end" fill="#424242" stroke="#424242" stroke-width="0.12">41</text>
<line x1="23.4" y1="705.44" x2="26.1" y2="705.44" stroke="#222" stroke-width="0.9"/>
<text transform="translate(21.2 708.29) rotate(0.03)" font-size="8.2" text-anchor="end" fill="#424242" stroke="#424242" stroke-width="0.12">4</text>
<line x1="23.4" y1="714.53" x2="26.1" y2="714.53" stroke="#222" stroke-width="0.9"/>
<text transform="translate(21.2 717.38) rotate(0.03)" font-size="8.2" text-anchor="end" fill="#424242" stroke="#424242" stroke-width="0.12">39</text>
<line x1="23.4" y1="723.62" x2="26.1" y2="723.62" stroke="#222" stroke-width="0.9"/>
<text transform="translate(21.2 726.47) rotate(0.03)" font-size="8.2" text-anchor="end" fill="#424242" stroke="#424242" stroke-width="0.12">38</text>
<line x1="23.4" y1="732.70" x2="26.1" y2="732.70" stroke="#222" stroke-width="0.9"/>
<text transform="translate(21.2 735.55) rotate(0.03)" font-size="8.2" text-anchor="end" fill="#424242" stroke="#424242" stroke-width="0.12">37</text>
<line x1="23.4" y1="741.79" x2="26.1" y2="741.79" stroke="#222" stroke-width="0.9"/>
<text transform="translate(21.2 744.64) rotate(0.03)" font-size="8.2" text-anchor="end" fill="#424242" stroke="#424242" stroke-width="0.12">33</text>
<line x1="23.4" y1="750.88" x2="26.1" y2="750.88" stroke="#222" stroke-width="0.9"/>
<text transform="translate(21.2 753.73) rotate(0.03)" font-size="8.2" text-anchor="end" fill="#424242" stroke="#424242" stroke-width="0.12">32</text>
<line x1="23.4" y1="759.96" x2="26.1" y2="759.96" stroke="#222" stroke-width="0.9"/>
<text transform="translate(21.2 762.81) rotate(0.03)" font-size="8.2" text-anchor="end" fill="#424242" stroke="#424242" stroke-width="0.12">31</text>
<line x1="23.4" y1="769.05" x2="26.1" y2="769.05" stroke="#222" stroke-width="0.9"/>
<text transform="translate(21.2 771.90) rotate(0.03)" font-size="8.2" text-anchor="end" fill="#424242" stroke="#424242" stroke-width="0.12">30</text>
<line x1="23.4" y1="778.14" x2="26.1" y2="778.14" stroke="#222" stroke-width="0.9"/>
<text transform="translate(21.2 780.99) rotate(0.03)" font-size="8.2" text-anchor="end" fill="#424242" stroke="#424242" stroke-width="0.12">3</text>
<line x1="23.4" y1="787.22" x2="26.1" y2="787.22" stroke="#222" stroke-width="0.9"/>
<text transform="translate(21.2 790.07) rotate(0.03)" font-size="8.2" text-anchor="end" fill="#424242" stroke="#424242" stroke-width="0.12">29</text>
<line x1="23.4" y1="796.31" x2="26.1" y2="796.31" stroke="#222" stroke-width="0.9"/>
<text transform="translate(21.2 799.16) rotate(0.03)" font-size="8.2" text-anchor="end" fill="#424242" stroke="#424242" stroke-width="0.12">28</text>
<line x1="23.4" y1="805.40" x2="26.1" y2="805.40" stroke="#222" stroke-width="0.9"/>
<text transform="translate(21.2 808.25) rotate(0.03)" font-size="8.2" text-anchor="end" fill="#424242" stroke="#424242" stroke-width="0.12">27</text>
<line x1="23.4" y1="814.48" x2="26.1" y2="814.48" stroke="#222" stroke-width="0.9"/>
<text transform="translate(21.2 817.33) rotate(0.03)" font-size="8.2" text-anchor="end" fill="#424242" stroke="#424242" stroke-width="0.12">24</text>
<line x1="23.4" y1="823.57" x2="26.1" y2="823.57" stroke="#222" stroke-width="0.9"/>
<text transform="translate(21.2 826.42) rotate(0.03)" font-size="8.2" text-anchor="end" fill="#424242" stroke="#424242" stroke-width="0.12">22</text>
<line x1="23.4" y1="832.66" x2="26.1" y2="832.66" stroke="#222" stroke-width="0.9"/>
<text transform="translate(21.2 835.51) rotate(0.03)" font-size="8.2" text-anchor="end" fill="#424242" stroke="#424242" stroke-width="0.12">21</text>
<line x1="23.4" y1="841.75" x2="26.1" y2="841.75" stroke="#222" stroke-width="0.9"/>
<text transform="translate(21.2 844.60) rotate(0.03)" font-size="8.2" text-anchor="end" fill="#424242" stroke="#424242" stroke-width="0.12">20</text>
<line x1="23.4" y1="850.83" x2="26.1" y2="850.83" stroke="#222" stroke-width="0.9"/>
<text transform="translate(21.2 853.68) rotate(0.03)" font-size="8.2" text-anchor="end" fill="#424242" stroke="#424242" stroke-width="0.12">19</text>
<line x1="23.4" y1="859.92" x2="26.1" y2="859.92" stroke="#222" stroke-width="0.9"/>
<text transform="translate(21.2 862.77) rotate(0.03)" font-size="8.2" text-anchor="end" fill="#424242" stroke="#424242" stroke-width="0.12">16</text>
<line x1="23.4" y1="869.01" x2="26.1" y2="869.01" stroke="#222" stroke-width="0.9"/>
<text transform="translate(21.2 871.86) rotate(0.03)" font-size="8.2" text-anchor="end" fill="#424242" stroke="#424242" stroke-width="0.12">13</text>
<line x1="23.4" y1="878.09" x2="26.1" y2="878.09" stroke="#222" stroke-width="0.9"/>
<text transform="translate(21.2 880.94) rotate(0.03)" font-size="8.2" text-anchor="end" fill="#424242" stroke="#424242" stroke-width="0.12">11</text>
<line x1="23.4" y1="887.18" x2="26.1" y2="887.18" stroke="#222" stroke-width="0.9"/>
<text transform="translate(21.2 890.03) rotate(0.03)" font-size="8.2" text-anchor="end" fill="#424242" stroke="#424242" stroke-width="0.12">1</text>
<line x1="59.9" y1="892.3" x2="59.9" y2="894.9" stroke="#222" stroke-width="0.9"/>
<text x="59.9" y="903.1" font-size="8.4" text-anchor="middle" fill="#4d4d4d">0</text>
<line x1="122.4" y1="892.3" x2="122.4" y2="894.9" stroke="#222" stroke-width="0.9"/>
<text x="122.4" y="903.1" font-size="8.4" text-anchor="middle" fill="#4d4d4d">180</text>
<line x1="184.9" y1="892.3" x2="184.9" y2="894.9" stroke="#222" stroke-width="0.9"/>
<text x="184.9" y="903.1" font-size="8.4" text-anchor="middle" fill="#4d4d4d">360</text>
<line x1="247.4" y1="892.3" x2="247.4" y2="894.9" stroke="#222" stroke-width="0.9"/>
<text x="247.4" y="903.1" font-size="8.4" text-anchor="middle" fill="#4d4d4d">540</text>
<line x1="309.9" y1="892.3" x2="309.9" y2="894.9" stroke="#222" stroke-width="0.9"/>
<text x="309.9" y="903.1" font-size="8.4" text-anchor="middle" fill="#4d4d4d">720</text>
<line x1="372.4" y1="892.3" x2="372.4" y2="894.9" stroke="#222" stroke-width="0.9"/>
<text x="372.4" y="903.1" font-size="8.4" text-anchor="middle" fill="#4d4d4d">900</text>
<line x1="434.9" y1="892.3" x2="434.9" y2="894.9" stroke="#222" stroke-width="0.9"/>
<text x="434.9" y="903.1" font-size="8.4" text-anchor="middle" fill="#4d4d4d">1,080</text>
<text x="273.2" y="914.6" font-size="10" text-anchor="middle" fill="#111">Time (days)</text>
<text transform="translate(8.1 601) rotate(-90)" font-size="10" textLength="43.2" lengthAdjust="spacingAndGlyphs" text-anchor="middle" fill="#111">Patient ID</text>
</g>
</svg></body></html>
